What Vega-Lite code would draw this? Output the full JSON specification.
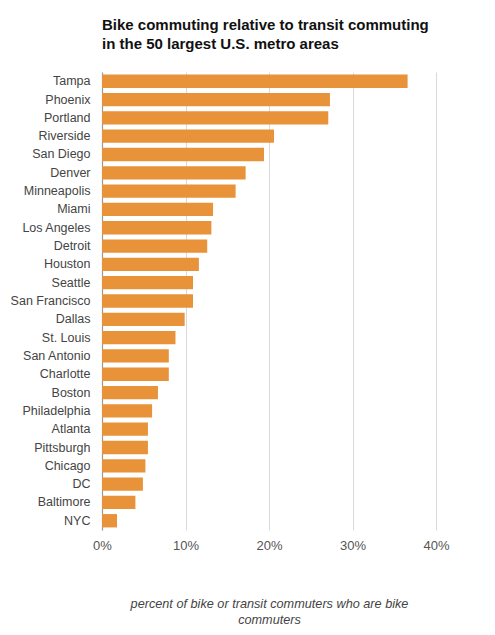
{
  "$schema": "https://vega.github.io/schema/vega-lite/v6.json",
  "width": 334,
  "height": 458,
  "autosize": {"type": "none"},
  "padding": {"left": 102, "top": 72, "right": 59, "bottom": 105},
  "background": "white",
  "title": {
    "text": ["Bike commuting relative to transit commuting", "in the 50 largest U.S. metro areas"],
    "anchor": "start",
    "frame": "group",
    "font": "Liberation Sans",
    "fontSize": 15,
    "fontWeight": "bold",
    "color": "#111111",
    "lineHeight": 19,
    "offset": 20
  },
  "data": {
    "values": [
      {"metro": "Tampa", "pct": 36.6},
      {"metro": "Phoenix", "pct": 27.3},
      {"metro": "Portland", "pct": 27.1},
      {"metro": "Riverside", "pct": 20.6},
      {"metro": "San Diego", "pct": 19.4},
      {"metro": "Denver", "pct": 17.2},
      {"metro": "Minneapolis", "pct": 16.0},
      {"metro": "Miami", "pct": 13.3},
      {"metro": "Los Angeles", "pct": 13.1},
      {"metro": "Detroit", "pct": 12.6},
      {"metro": "Houston", "pct": 11.6},
      {"metro": "Seattle", "pct": 10.9},
      {"metro": "San Francisco", "pct": 10.9},
      {"metro": "Dallas", "pct": 9.9},
      {"metro": "St. Louis", "pct": 8.8},
      {"metro": "San Antonio", "pct": 8.0},
      {"metro": "Charlotte", "pct": 8.0},
      {"metro": "Boston", "pct": 6.7},
      {"metro": "Philadelphia", "pct": 6.0},
      {"metro": "Atlanta", "pct": 5.5},
      {"metro": "Pittsburgh", "pct": 5.5},
      {"metro": "Chicago", "pct": 5.2},
      {"metro": "DC", "pct": 4.9},
      {"metro": "Baltimore", "pct": 4.0},
      {"metro": "NYC", "pct": 1.8}
    ]
  },
  "mark": {"type": "bar", "color": "#e8923a"},
  "encoding": {
    "y": {
      "field": "metro",
      "type": "nominal",
      "sort": null,
      "scale": {"paddingInner": 0.27, "paddingOuter": 0.14},
      "axis": {
        "title": null,
        "ticks": false,
        "labelPadding": 12,
        "labelFont": "Liberation Sans",
        "labelFontSize": 12.5,
        "labelColor": "#444444",
        "domainColor": "#999999",
        "domainWidth": 1.2
      }
    },
    "x": {
      "field": "pct",
      "type": "quantitative",
      "scale": {"domain": [0, 40], "nice": false},
      "axis": {
        "title": ["percent of bike or transit commuters who are bike", "commuters"],
        "titleFont": "Liberation Sans",
        "titleFontSize": 12.7,
        "titleFontStyle": "italic",
        "titleFontWeight": "normal",
        "titleColor": "#444444",
        "titlePadding": 45,
        "titleLineHeight": 16,
        "values": [0, 10, 20, 30, 40],
        "labelExpr": "datum.value + '%'",
        "labelFlush": false,
        "labelFont": "Liberation Sans",
        "labelFontSize": 13,
        "labelColor": "#555555",
        "labelPadding": 9,
        "ticks": false,
        "domain": false,
        "grid": true,
        "gridColor": "#d9d9d9",
        "gridWidth": 1
      }
    }
  },
  "config": {"view": {"stroke": null}}
}
